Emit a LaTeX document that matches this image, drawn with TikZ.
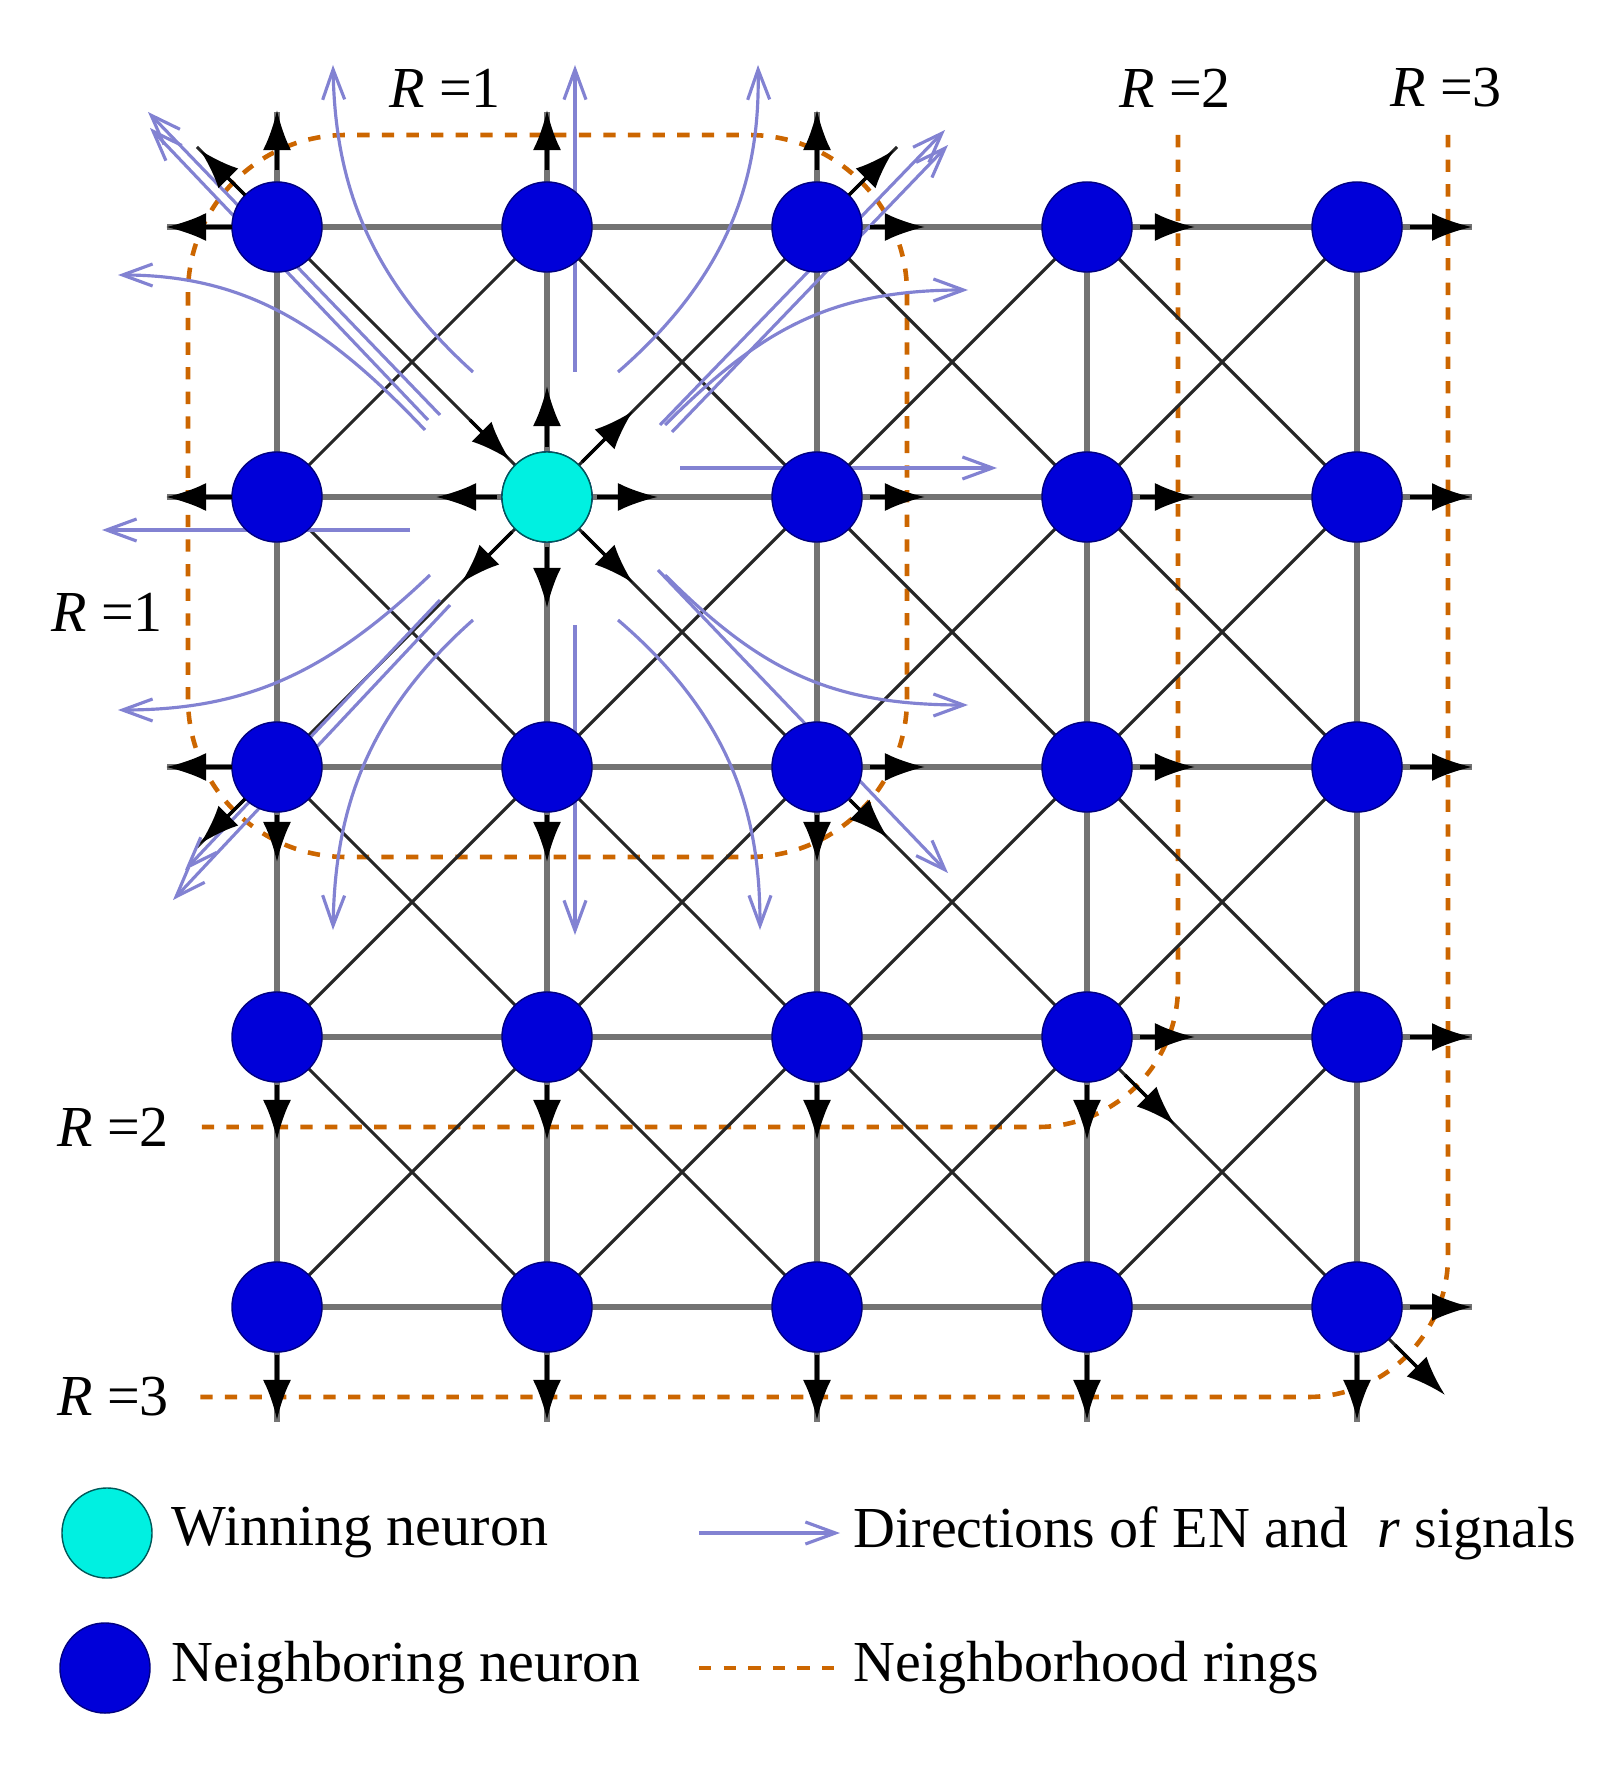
\documentclass[tikz,border=0pt]{standalone}
\usepackage{fontspec}
\setmainfont{Liberation Serif}
\usetikzlibrary{arrows.meta,calc}
\begin{document}
\begin{tikzpicture}[x=0.01cm,y=-0.01cm,
  neuron/.style={circle,draw=blue!50!black,fill=blue!85!black,minimum size=0.9cm,inner sep=0},
  winner/.style={circle,draw=teal!70!black,fill={rgb,255:red,0;green,240;blue,225},minimum size=0.9cm,inner sep=0},
  gridl/.style={draw=black!55,line width=1.6pt},
  diag/.style={draw=black!85,line width=0.9pt},
  ring/.style={draw=orange!80!black,line width=1.3pt,dash pattern=on 3.5pt off 3.5pt},
  head/.style={draw=black,line width=1pt,-{Latex[length=0.4cm,width=0.28cm]}},
  sig/.style={draw={rgb,255:red,130;green,130;blue,210},line width=0.9pt,-{Straight Barb[length=0.3cm,width=0.22cm]}},
  lbl/.style={font=\fontsize{16.5}{20}\selectfont,inner sep=0}]
\useasboundingbox (0,0) rectangle (1623,1770);
% rings
\draw[ring,rounded corners=45] (188,135) rectangle (907,857);
\draw[ring,rounded corners=40] (1178,135) -- (1178,1127) -- (192,1127);
\draw[ring,rounded corners=40] (1448,135) -- (1448,1397) -- (192,1397);
% nodes
\foreach \i/\x in {0/277,1/547,2/817,3/1087,4/1357}
  \foreach \j/\y in {0/227,1/497,2/767,3/1037,4/1307}
    \coordinate (p\i\j) at (\x,\y);
% grid lines
\foreach \j in {0,...,4}{
  \foreach \i/\k in {0/1,1/2,2/3,3/4}{ \draw[gridl] (p\i\j) -- (p\k\j); \draw[gridl] (p\j\i) -- (p\j\k); }}
\foreach \i/\k in {0/1,1/2,2/3,3/4}
  \foreach \j/\l in {0/1,1/2,2/3,3/4}{ \draw[diag] (p\i\j) -- (p\k\l); \draw[diag] (p\k\j) -- (p\i\l); }
% outer stubs
\foreach \j in {0,1,2}{ \draw[gridl] (p0\j) -- ++(-110,0); \draw[gridl] (p\j0) -- ++(0,-115); }
\foreach \j in {0,...,4}{ \draw[gridl] (p4\j) -- ++(115,0); \draw[gridl] (p\j4) -- ++(0,115); }
\draw[diag] (p00) -- ++(-80,-80); \draw[diag] (p20) -- ++(80,-80); \draw[diag] (p02) -- ++(-80,80);
\draw[diag] (p44) -- ++(80,80);
% signal arrows
\draw[sig] (473,372) .. controls (360,270) and (335,170) .. (333,65);
\draw[sig] (575,372) -- (575,65);
\draw[sig] (618,372) .. controls (735,270) and (760,170) .. (758,65);
\draw[sig] (440,415) -- (148,112);
\draw[sig] (428,420) -- (150,128);
\draw[sig] (425,430) .. controls (330,330) and (250,275) .. (118,275);
\draw[sig] (410,530) -- (102,530);
\draw[sig] (430,575) .. controls (330,670) and (250,710) .. (118,710);
\draw[sig] (450,605) -- (173,900);
\draw[sig] (440,600) -- (185,870);
\draw[sig] (473,620) .. controls (360,720) and (335,820) .. (333,930);
\draw[sig] (575,625) -- (575,935);
\draw[sig] (618,620) .. controls (735,720) and (760,820) .. (760,930);
\draw[sig] (665,575) .. controls (760,670) and (830,705) .. (968,705);
\draw[sig] (658,570) -- (948,873);
\draw[sig] (680,468) -- (997,468);
\draw[sig] (665,425) .. controls (760,330) and (830,290) .. (968,290);
\draw[sig] (660,425) -- (945,130);
\draw[sig] (672,432) -- (948,145);
% nodes on top
\foreach \i in {0,...,4}\foreach \j in {0,...,4}{ \node[neuron] (n\i\j) at (p\i\j) {}; }
\node[winner] (c) at (p11) {};
% arrowheads near winner
\draw[head] (547,447) -- (547,386);
\draw[head] (497,497) -- (436,497);
\draw[head] (597,497) -- (658,497);
\draw[head] (547,547) -- (547,608);
\draw[head] (470,420) -- (510,460);
\draw[head] (582,462) -- (633,411);
\draw[head] (512,532) -- (461,583);
\draw[head] (582,532) -- (633,583);
% boundary arrowheads
\foreach \x in {277,547,817}{ \draw[head] (\x,170) -- (\x,110); \draw[head] (\x,815) -- (\x,862); }
\foreach \y in {227,497,767}{ \draw[head] (232,\y) -- (166,\y); \draw[head] (870,\y) -- (925,\y); }
\foreach \y in {227,497,767,1037}{ \draw[head] (1140,\y) -- (1195,\y); }
\foreach \y in {227,497,767,1037,1307}{ \draw[head] (1410,\y) -- (1472,\y); }
\foreach \x in {277,547,817,1087}{ \draw[head] (\x,1085) -- (\x,1140); }
\foreach \x in {277,547,817,1087,1357}{ \draw[head] (\x,1355) -- (\x,1420); }
\draw[head] (245,195) -- (200,150);
\draw[head] (849,195) -- (894,150);
\draw[head] (245,799) -- (200,844);
\draw[head] (850,800) -- (888,838);
\draw[head] (1125,1075) -- (1175,1125);
\draw[head] (1395,1345) -- (1445,1395);
% labels
\node[lbl] (r1t) at (445,88) {\textit{R} =1};
\node[lbl] (r2t) at (1175,88) {\textit{R} =2};
\node[lbl] (r3t) at (1446,88) {\textit{R} =3};
\node[lbl] (r1l) at (107,612) {\textit{R} =1};
\node[lbl] (r2l) at (113,1127) {\textit{R} =2};
\node[lbl] (r3l) at (113,1397) {\textit{R} =3};
% legend
\node[winner] (lw) at (107,1533) {};
\node[lbl,anchor=west] (tw) at (171,1533) {Winning neuron};
\node[neuron] (ln) at (105,1668) {};
\node[lbl,anchor=west] (tn) at (171,1668) {Neighboring neuron};
\coordinate (la1) at (699,1533); \coordinate (la2) at (840,1533);
\draw[sig] (la1) -- (la2);
\node[lbl,anchor=west] (ta) at (853,1533) {Directions of EN and \ \textit{r} signals};
\coordinate (lr1) at (699,1668); \coordinate (lr2) at (834,1668);
\draw[ring] (lr1) -- (lr2);
\node[lbl,anchor=west] (tr) at (853,1668) {Neighborhood rings};
\end{tikzpicture}
\end{document}
